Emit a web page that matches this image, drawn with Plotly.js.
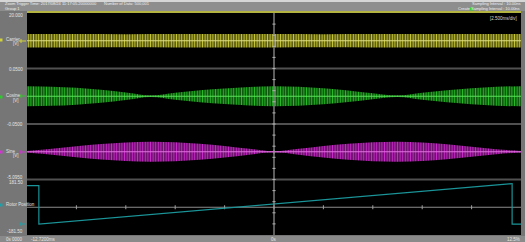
<!DOCTYPE html>
<html>
<head>
<meta charset="utf-8">
<script src="https://cdn.plot.ly/plotly-3.0.1.min.js"></script>
<style>
html,body{margin:0;padding:0;background:#767676;}
#chart{width:525px;height:242px;}
</style>
</head>
<body>
<div id="chart"></div>
<script>
// ---- data ----
const timeMs = [0,1.25,2.5,3.75,5,6.25,7.5,8.75,10,11.25,12.5,13.75,15,16.25,17.5,18.75,20,21.25,22.5,23.75,25];
// envelope half-amplitudes
const carrierTime = [0,2.5,5,7.5,10,12.5,15,17.5,20,22.5,25];
const carrierAmp  = [4.8,4.8,4.7,4.8,4.8,4.8,4.7,4.8,4.8,4.8,4.8];       // V
const cosineAmp = [0.0180,0.0173,0.0153,0.0117,0.0068,0.0014,0.0063,0.0108,0.0140,0.0167,0.0180,0.0171,0.0144,0.0104,0.0054,0.0014,0.0063,0.0108,0.0144,0.0171,0.0180];
const sineAmp   = [0.0014,0.0054,0.0099,0.0140,0.0167,0.0180,0.0171,0.0144,0.0104,0.0054,0.0011,0.0054,0.0104,0.0144,0.0171,0.0180,0.0167,0.0135,0.0090,0.0045,0.0014];
const rotorTime = [0,0.6,0.6,24.55,24.55,25];
const rotorDeg  = [142,142,-110,155,-110,-110];
const channelNames = ["Carrier","Cosine","Sine","Rotor Position"];
const channelUnits = ["[V]","[V]","[V]",""];
const scaleLabels = ["20.000","0.0500","-0.0500","-5.0950","181.50","-181.50"];

// ---- layout helpers ----
const L=27, R=521, T=13, B=235;
const px2x = p => (p-L)/(R-L);
const py2y = p => (B-p)/(B-T);

function band(x, amp, axis, dark, bright, center){
  const lower = {x:x, y:amp.map(a=>-a), yaxis:axis, type:'scatter', mode:'lines',
    line:{width:0, shape:'spline'}, hoverinfo:'skip', showlegend:false};
  const upper = {x:x, y:amp.map(a=>a), yaxis:axis, type:'scatter', mode:'lines',
    line:{width:0, shape:'spline'}, fill:'tonexty', fillcolor:dark,
    fillpattern:{shape:'|', size:2.6, solidity:0.4, fgcolor:bright, bgcolor:dark},
    hoverinfo:'skip', showlegend:false};
  const mid = {x:[x[0], x[x.length-1]], y:[0,0], yaxis:axis, type:'scatter', mode:'lines',
    line:{width:1, color:center}, hoverinfo:'skip', showlegend:false};
  return [lower, upper, mid];
}

const traces = [].concat(
  band(carrierTime, carrierAmp, 'y4', '#55550f', '#c4c438', '#dcdc80'),
  band(timeMs, cosineAmp, 'y3', '#0c4e0c', '#28b828', '#58e058'),
  band(timeMs, sineAmp, 'y2', '#641064', '#c82cc8', '#e070e0'),
  [{x:rotorTime, y:rotorDeg, yaxis:'y', type:'scatter', mode:'lines',
    line:{width:1.2, color:'#1a9498'}, hoverinfo:'skip', showlegend:false}]
);

const shapes = [];
// header & footer strips
shapes.push({type:'rect', xref:'paper', yref:'paper', x0:px2x(0), x1:px2x(525), y0:py2y(11), y1:py2y(0), fillcolor:'#8e8e8e', line:{width:0}, layer:'below'});
shapes.push({type:'rect', xref:'paper', yref:'paper', x0:px2x(0), x1:px2x(525), y0:py2y(2), y1:py2y(0), fillcolor:'#d6d6d6', line:{width:0}, layer:'below'});
shapes.push({type:'rect', xref:'paper', yref:'paper', x0:px2x(0), x1:px2x(525), y0:py2y(242), y1:py2y(236), fillcolor:'#8a8a8a', line:{width:0}, layer:'below'});
// yellow top line
shapes.push({type:'line', xref:'paper', yref:'paper', x0:0, x1:1, y0:py2y(12), y1:py2y(12), line:{color:'#c8c832', width:1.5}});
// panel centre lines
[0.125,0.375,0.625,0.875].forEach(y=>{
  shapes.push({type:'line', xref:'paper', yref:'paper', x0:0, x1:1, y0:y, y1:y, line:{color:'#8c8c8c', width:1}, layer:'below'});
  for(let k=1;k<10;k++){
    shapes.push({type:'line', xref:'x', yref:'paper', x0:k*2.5, x1:k*2.5, y0:y-0.009, y1:y+0.009, line:{color:'#a0a0a0', width:1}, layer:'below'});
  }
});
// panel separators
[0.25,0.5,0.75].forEach(y=>{
  shapes.push({type:'line', xref:'paper', yref:'paper', x0:0, x1:1, y0:y, y1:y, line:{color:'#505050', width:2}});
});
// vertical centre line with ticks
shapes.push({type:'line', xref:'x', yref:'paper', x0:12.5, x1:12.5, y0:0, y1:1, line:{color:'#9a9a9a', width:1.2}});
for(let k=1;k<20;k++){
  shapes.push({type:'line', xref:'x', yref:'paper', x0:12.42, x1:12.58, y0:k*0.05, y1:k*0.05, line:{color:'#b0b0b0', width:1}});
}
// left channel markers
const chanColors = ['#d2d23a','#2fc82f','#d232d2','#1ea0a8'];
const chanY = [40, 97, 152, 205];
const offY = [41, 96, 152, 224];
chanColors.forEach((c,i)=>{
  shapes.push({type:'rect', xref:'paper', yref:'paper', x0:px2x(0), x1:px2x(2.5), y0:py2y(chanY[i]+1.5), y1:py2y(chanY[i]-1.5), fillcolor:c, line:{width:0}});
  shapes.push({type:'line', xref:'paper', yref:'paper', x0:px2x(19), x1:px2x(26), y0:py2y(offY[i]), y1:py2y(offY[i]), line:{color:c, width:1}});
  shapes.push({type:'line', xref:'paper', yref:'paper', x0:px2x(21), x1:px2x(21), y0:py2y(offY[i]-2), y1:py2y(offY[i]+2), line:{color:c, width:1}});
});

const FAM = 'Liberation Sans Narrow, Liberation Sans, Arial, sans-serif';
const f = (s,c)=>({family:FAM, size:s, color:c||'#e4e4e4'});
const ann = (px,py,text,anchor,size,color)=>({xref:'paper', yref:'paper', x:px2x(px), y:py2y(py), text:text,
  showarrow:false, xanchor:anchor||'left', yanchor:'middle', font:f(size||5,color)});

const annotations = [
  ann(3,4,'Zoom Trigger Time: 2017/08/24 11:17:05.20000000','left',4,'#f0f0f0'),
  ann(3,8.5,'Group 1','left',4,'#f0f0f0'),
  ann(102,4,'Number of Data: 500,001','left',4,'#f0f0f0'),
  ann(522,4,'Sampling Interval : 10.00ns','right',4,'#f0f0f0'),
  ann(522,9,'Create Sampling Interval : 10.00ns','right',4,'#f0f0f0'),
  ann(519,18,'[2.500ms/div]','right',4.5,'#d8d8d8'),
  ann(25,15,scaleLabels[0],'right',4.5),
  ann(25,69,scaleLabels[1],'right',4.5),
  ann(25,124,scaleLabels[2],'right',4.5),
  ann(25,177,scaleLabels[3],'right',4.5),
  ann(25,182,scaleLabels[4],'right',4.5),
  ann(25,231,scaleLabels[5],'right',4.5),
  ann(4,239,'0s 0000','left',4.5),
  ann(29,239,'-12.7200ms','left',4.5),
  ann(274,239,'0s','center',4.5),
  ann(522,239,'12.5%','right',4.5)
];
channelNames.forEach((n,i)=>{
  annotations.push(ann(3.5,chanY[i]-1,n,'left',4.5));
  if(channelUnits[i]) annotations.push(ann(11,chanY[i]+3.5,channelUnits[i],'left',4.5));
});
shapes.push({type:'rect', xref:'paper', yref:'paper', x0:px2x(470), x1:px2x(473), y0:py2y(10.5), y1:py2y(7.5), fillcolor:'#30d030', line:{width:0}});

const yax = (d,r)=>({domain:d, range:r, showticklabels:false, showgrid:false, zeroline:false, showline:false, ticks:'', fixedrange:true});
const layout = {
  width:525, height:242,
  margin:{l:L, r:525-R, t:T, b:242-B, pad:0},
  paper_bgcolor:'#767676', plot_bgcolor:'#000000',
  showlegend:false,
  xaxis:{range:[0,25], showticklabels:false, showgrid:false, zeroline:false, showline:false, ticks:'', fixedrange:true},
  yaxis: yax([0,0.25],[-181.5,181.5]),
  yaxis2: yax([0.25,0.5],[-0.05,0.05]),
  yaxis3: yax([0.5,0.75],[-0.05,0.05]),
  yaxis4: yax([0.75,1],[-20,20]),
  shapes:shapes, annotations:annotations
};
Plotly.newPlot('chart', traces, layout, {staticPlot:true, displayModeBar:false});
</script>
</body>
</html>
